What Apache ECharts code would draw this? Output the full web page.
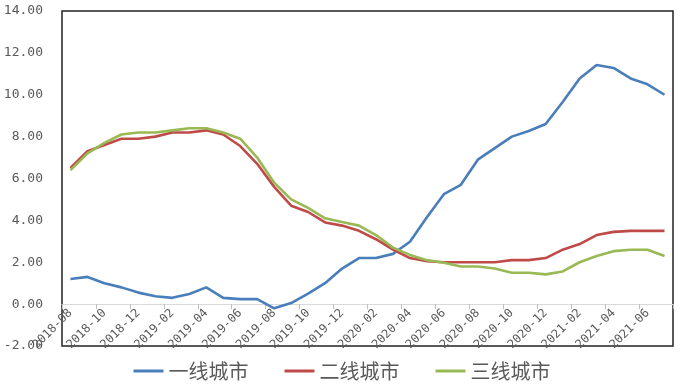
<!DOCTYPE html>
<html>
<head>
<meta charset="utf-8">
<script src="https://cdn.jsdelivr.net/npm/echarts@6/dist/echarts.min.js"></script>
<style>html,body{margin:0;padding:0;background:#fff;}#c{width:684px;height:392px;}</style>
</head>
<body>
<div id="c"></div>
<script>
var categories = ["2018-08","2018-09","2018-10","2018-11","2018-12","2019-01","2019-02","2019-03","2019-04","2019-05","2019-06","2019-07",
  "2019-08","2019-09","2019-10","2019-11","2019-12","2020-01","2020-02","2020-03","2020-04","2020-05","2020-06","2020-07",
  "2020-08","2020-09","2020-10","2020-11","2020-12","2021-01","2021-02","2021-03","2021-04","2021-05","2021-06","2021-07"];
var tier1 = [1.2,1.3,1.0,0.8,0.55,0.38,0.3,0.48,0.8,0.3,0.24,0.24,
  -0.2,0.05,0.5,1.0,1.7,2.2,2.2,2.4,2.98,4.15,5.25,5.7,
  6.9,7.45,8.0,8.27,8.6,9.65,10.78,11.42,11.28,10.78,10.5,10.0];
var tier2 = [6.5,7.3,7.6,7.9,7.9,8.0,8.2,8.2,8.3,8.1,7.55,6.7,
  5.6,4.7,4.4,3.9,3.75,3.5,3.1,2.6,2.2,2.05,2.0,2.0,
  2.0,2.0,2.1,2.1,2.2,2.6,2.87,3.3,3.45,3.5,3.5,3.5];
var tier3 = [6.4,7.2,7.7,8.1,8.2,8.2,8.3,8.4,8.4,8.2,7.9,7.0,
  5.8,5.0,4.6,4.1,3.92,3.75,3.3,2.7,2.35,2.1,1.98,1.8,
  1.8,1.7,1.5,1.5,1.42,1.56,2.0,2.3,2.53,2.6,2.6,2.3];
var seriesNames = ["一线城市","二线城市","三线城市"];
var yTicks = {min:-2, max:14, interval:2};

var colors = ['#4A7EBB','#BE4B48','#98B954'];
var gridTop = 11, gridBottom = 46, H = 392;
var plotH = H - gridTop - gridBottom;
var zeroOffset = -plotH * (0 - yTicks.min) / (yTicks.max - yTicks.min);
var chart = echarts.init(document.getElementById('c'), null, {renderer:'canvas'});
function mk(name, data, color){
  return {name:name, type:'line', data:data, symbol:'none', smooth:false,
    lineStyle:{color:color, width:2.6}, itemStyle:{color:color}};
}
chart.setOption({
  animation:false,
  color: colors,
  grid:{left:62, right:11, top:gridTop, bottom:gridBottom, show:true, borderColor:'#222', borderWidth:1.5, backgroundColor:'transparent'},
  legend:{bottom:6, left:'center', icon:'rect', itemWidth:30, itemHeight:3, itemGap:36,
    textStyle:{fontSize:20, color:'#595959', fontFamily:'Noto Sans CJK SC'},
    data:seriesNames},
  xAxis:{type:'category', data:categories, boundaryGap:true, offset:zeroOffset,
    axisLine:{onZero:false, lineStyle:{color:'#d9d9d9', width:1}},
    axisTick:{show:true, interval:1, length:5, lineStyle:{color:'#bfbfbf'}},
    axisLabel:{interval:1, rotate:45, margin:7, fontSize:12, color:'#595959', fontFamily:'DejaVu Sans Mono'},
    splitLine:{show:false}},
  yAxis:{type:'value', min:yTicks.min, max:yTicks.max, interval:yTicks.interval,
    axisLine:{show:false}, axisTick:{show:false}, splitLine:{show:false},
    axisLabel:{margin:19, fontSize:13, color:'#595959', fontFamily:'DejaVu Sans Mono',
      formatter:function(v){return v.toFixed(2);}}},
  series:[mk(seriesNames[0], tier1, colors[0]), mk(seriesNames[1], tier2, colors[1]), mk(seriesNames[2], tier3, colors[2])]
});
</script>
</body>
</html>
